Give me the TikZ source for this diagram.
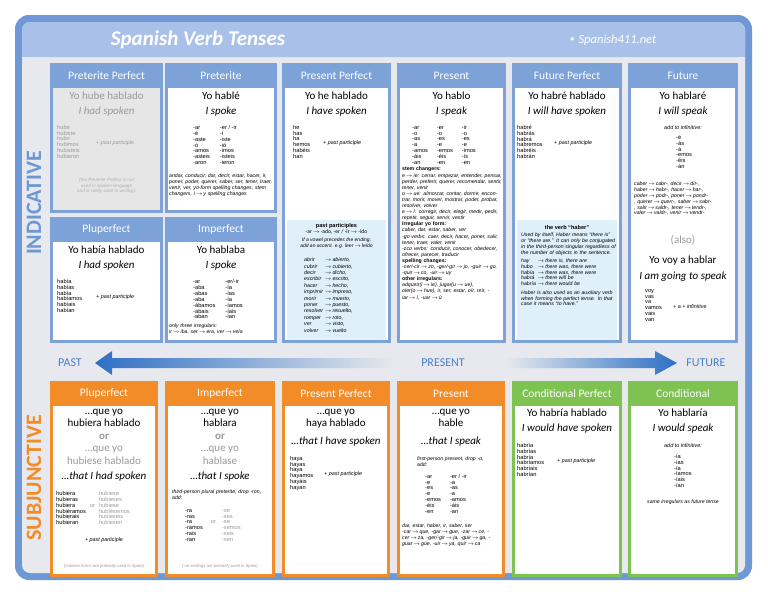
\documentclass[tikz,border=0pt]{standalone}
\usepackage{fontspec}
\setmainfont{Carlito}
\newfontfamily\smf{Liberation Sans}
\usetikzlibrary{calc}
\definecolor{frame}{HTML}{6F98D6}
\definecolor{band}{HTML}{A9C1E8}
\definecolor{bg}{HTML}{E7E9EE}
\definecolor{hblue}{HTML}{7DA2D8}
\definecolor{orng}{HTML}{F28C28}
\definecolor{grn}{HTML}{7EC352}
\definecolor{arrowblue}{HTML}{2E6FC4}
\definecolor{lblue}{HTML}{4A7FC8}
\definecolor{pale}{HTML}{DFF0FB}
\definecolor{gbody}{HTML}{E6E6E6}
\definecolor{gtext}{HTML}{9A9A9A}
\newcommand\ra{\,{$\scriptscriptstyle\rightarrow$}\,}
\newcommand\tensebox[8]{%
  \fill[#6] (#2,#3) rectangle (#4,#5);
  \fill[#7] ({#2+3},{#3+25}) rectangle ({#4-3},{#5-3});
  \node[hdr] (#1) at ({(#2+#4)/2},{#3+12.5}) {#8};}
\tikzset{
  hdr/.style={text=white,font=\fontsize{11.5}{12}\selectfont,inner sep=0},
  big/.style={font=\fontsize{11}{12}\selectfont,inner sep=0,anchor=north,align=center},
  bigi/.style={font=\fontsize{11}{12}\selectfont\itshape,inner sep=0,anchor=north,align=center},
  sm/.style={font=\smf\fontsize{5.7}{5.8}\selectfont,inner sep=0,anchor=north west,align=left},
  nt/.style={font=\smf\fontsize{5.2}{5.8}\selectfont\itshape,inner sep=0,anchor=north west,align=left,text width=#1},
  nt/.default=98pt,
  pp/.style={font=\smf\fontsize{5.4}{6}\selectfont\itshape,inner sep=0,anchor=west},
}
\begin{document}
\begin{tikzpicture}[x=1pt,y=-1pt]
\useasboundingbox (0,0) rectangle (768,595);
\fill[white] (0,0) rectangle (768,595);
% frame
\fill[frame,rounded corners=14pt] (15,15) rectangle (752,580);
\fill[bg,rounded corners=8pt] (22,22) rectangle (745,573);
\fill[band,rounded corners=8pt] (22,22) rectangle (745,57);
\fill[band] (22,45) rectangle (745,57);
\node[text=white,font=\fontsize{21}{23}\selectfont\bfseries\itshape,inner sep=0] (title) at (198,40) {Spanish Verb Tenses};
\node[text=white,font=\fontsize{12.5}{13}\selectfont\itshape,inner sep=0] (site) at (612,40) {\textasteriskcentered\ Spanish411.net};
% side labels
\node[rotate=90,text=lblue!80,font=\fontsize{22}{24}\selectfont\bfseries,inner sep=0] (ind) at (34,203) {INDICATIVE};
\node[rotate=90,text=orng,font=\fontsize{22}{24}\selectfont\bfseries,inner sep=0] (sub) at (34,478) {SUBJUNCTIVE};
% arrows
\shade[left color=arrowblue,right color=bg] (112,358) -- (395,358) -- (395,368) -- (112,368) -- (112,375) -- (95,363) -- (112,351) -- cycle;
\shade[left color=bg,right color=arrowblue] (505,358) -- (655,358) -- (655,351) -- (677,363) -- (655,375) -- (655,368) -- (505,368) -- cycle;
\node[text=lblue,font=\fontsize{12}{13}\selectfont,inner sep=0] (past) at (70,363) {PAST};
\node[text=lblue,font=\fontsize{12}{13}\selectfont,inner sep=0] (pres) at (443,363) {PRESENT};
\node[text=lblue,font=\fontsize{12}{13}\selectfont,inner sep=0] (fut) at (706,363) {FUTURE};

% ===== INDICATIVE =====
\tensebox{hpp}{50}{63}{163}{213}{hblue}{gbody}{Preterite Perfect}
\tensebox{hpret}{165}{63}{277}{213}{hblue}{white}{Preterite}
\tensebox{hprpf}{282}{63}{391}{343}{hblue}{white}{Present Perfect}
\tensebox{hpres}{397}{63}{506}{343}{hblue}{white}{Present}
\tensebox{hfutp}{512}{63}{622}{343}{hblue}{white}{Future Perfect}
\tensebox{hfut}{628}{63}{738}{343}{hblue}{white}{Future}
\tensebox{hplup}{50}{217}{163}{343}{hblue}{white}{Pluperfect}
\tensebox{himpf}{165}{217}{277}{343}{hblue}{white}{Imperfect}

% Preterite Perfect
\node[big,text=gtext] (a1) at (106.5,92) {Yo hube hablado};
\node[bigi,text=gtext] (a2) at (106.5,107) {I had spoken};
\node[sm,text=gtext] (a3) at (57,125) {hube\\hubiste\\hubo\\hubimos\\hubisteis\\hubieron};
\node[pp,text=gtext] (a4) at (96,143) {+ past participle};
\node[font=\smf\fontsize{4.6}{5.2}\selectfont\itshape,text=gtext!80,align=center,inner sep=0] (a5) at (106.5,186) {(the Preterite Perfect is not\\used in spoken language\\and is rarely used in writing.)};

% Preterite
\node[big] (b1) at (221,92) {Yo hablé};
\node[bigi] (b2) at (221,107) {I spoke};
\node[sm] (b3) at (193,125) {\begin{tabular}{@{}l@{\hspace{10pt}}l@{}}-ar&-er / -ir\\-é&-í\\-aste&-iste\\-ó&-ió\\-amos&-imos\\-asteis&-isteis\\-aron&-ieron\end{tabular}};
\node[nt=104pt] (b4) at (169,174) {andar, conducir, dar, decir, estar, hacer, ir, poner, poder, querer, saber, ser, tener, traer, venir, ver, yo-form spelling changes, stem changers, i\ra y spelling changes};

% Present Perfect
\node[big] (c1) at (336.5,92) {Yo he hablado};
\node[bigi] (c2) at (336.5,107) {I have spoken};
\node[sm] (c3) at (293,125) {he\\has\\ha\\hemos\\habéis\\han};
\node[pp] (c4) at (323,143) {+ past participle};
\fill[pale] (287,220) rectangle (386,340);
\node[font=\smf\fontsize{5.6}{6.2}\selectfont\bfseries,inner sep=0,anchor=north,align=center] (c5) at (336.5,223) {past participles\\[0.3pt]\normalfont -ar\ra-ado, -er / -ir\ra-ido};
\node[font=\smf\fontsize{5}{5.6}\selectfont\itshape,inner sep=0,anchor=north,align=center] (c6) at (336.5,238) {If a vowel precedes the ending,\\add an accent. e.g. leer\ra leído};
\node[font=\smf\fontsize{5.3}{6.4}\selectfont\itshape,inner sep=0,anchor=north west,align=left] (c7) at (304,257) {\begin{tabular}{@{}l@{\,}l@{}}abrir&\ra abierto,\\cubrir&\ra cubierto,\\decir&\ra dicho,\\escribir&\ra escrito,\\hacer&\ra hecho,\\imprimir&\ra impreso,\\morir&\ra muerto,\\poner&\ra puesto,\\resolver&\ra resuelto,\\romper&\ra roto,\\ver&\ra visto,\\volver&\ra vuelto\end{tabular}};

% Present
\node[big] (d1) at (451.5,92) {Yo hablo};
\node[bigi] (d2) at (451.5,107) {I speak};
\node[sm] (d3) at (412,125) {\begin{tabular}{@{}l@{\hspace{9pt}}l@{\hspace{9pt}}l@{}}-ar&-er&-ir\\-o&-o&-o\\-as&-es&-es\\-a&-e&-e\\-amos&-emos&-imos\\-áis&-éis&-ís\\-an&-en&-en\end{tabular}};
\node[nt=100pt,font=\smf\fontsize{5.2}{6.1}\selectfont\itshape] (d4) at (402,167) {{\upshape\bfseries stem changers:}\\e\ra ie: cerrar, empezar, entender, pensar, perder, preferir, querer, recomendar, sentir, tener, venir\\o\ra ue: almorzar, contar, dormir, encontrar, morir, mover, mostrar, poder, probar, resolver, volver\\e\ra i: corregir, decir, elegir, medir, pedir, repetir, seguir, servir, vestir\\{\upshape\bfseries irregular yo form:}\\caber, dar, estar, saber, ver\\-go verbs: caer, decir, hacer, poner, salir, tener, traer, valer, venir\\-zco verbs: conducir, conocer, obedecer, ofrecer, parecer, traducir\\{\upshape\bfseries spelling changes:}\\-cer/-cir\ra zo, -ger/-gir\ra jo, -guir\ra go, -quir\ra co, -uir\ra uy\\{\upshape\bfseries other irregulars:}\\adquirir(i\ra ie), jugar(u\ra ue), oler(o\ra hue), ir, ser, estar, oír, reír, -iar\ra í, -uar\ra ú};

% Future Perfect
\node[big] (e1) at (567,92) {Yo habré hablado};
\node[bigi] (e2) at (567,107) {I will have spoken};
\node[sm] (e3) at (517,125) {habré\\habrás\\habrá\\habremos\\habréis\\habrán};
\node[pp] (e4) at (554,143) {+ past participle};
\fill[pale] (517,220) rectangle (617,340);
\node[font=\smf\fontsize{5.6}{6}\selectfont\bfseries,inner sep=0] (e5) at (567,227) {the verb “haber”};
\node[nt=96pt] (e6) at (521,233) {Used by itself, Haber means “there is” or “there are.” It can only be conjugated in the third-person singular regardless of the number of objects in the sentence.\\[2pt]
\begin{tabular}{@{}l@{\,}l@{}}hay&\ra there is, there are\\hubo&\ra there was, there were\\había&\ra there was, there were\\habrá&\ra there will be\\habría&\ra there would be\end{tabular}\\[2pt]
Haber is also used as an auxiliary verb when forming the perfect tense. In that case it means “to have.”};

% Future
\node[big] (f1) at (683,92) {Yo hablaré};
\node[bigi] (f2) at (683,107) {I will speak};
\node[font=\smf\fontsize{5.4}{6}\selectfont\itshape,inner sep=0] (f3) at (683,128) {add to infinitive:};
\node[sm] (f4) at (676,135) {-é\\-ás\\-á\\-emos\\-éis\\-án};
\node[nt=100pt] (f5) at (634,182) {caber\ra cabr-, decir\ra dir-, haber\ra habr-, hacer\ra har-, poder\ra podr-, poner\ra pondr-, querer\ra querr-, saber\ra sabr-, salir\ra saldr-, tener\ra tendr-, valer\ra valdr-, venir\ra vendr-};
\node[font=\fontsize{11}{12}\selectfont,text=gtext,inner sep=0] (f6) at (683,240) {(also)};
\node[big] (f7) at (683,256) {Yo voy a hablar};
\node[bigi] (f8) at (683,272) {I am going to speak};
\node[sm] (f9) at (645,289) {voy\\vas\\va\\vamos\\vais\\van};
\node[pp] (f10) at (673,307) {+ a + infinitive};

% Pluperfect
\node[big] (g1) at (106.5,246) {Yo había hablado};
\node[bigi] (g2) at (106.5,261) {I had spoken};
\node[sm] (g3) at (57,279) {había\\habías\\había\\habíamos\\habíais\\habían};
\node[pp] (g4) at (96,297) {+ past participle};

% Imperfect
\node[big] (h1) at (221,246) {Yo hablaba};
\node[bigi] (h2) at (221,261) {I spoke};
\node[sm] (h3) at (193,279) {\begin{tabular}{@{}l@{\hspace{10pt}}l@{}}-ar&-er/-ir\\-aba&-ía\\-abas&-ías\\-aba&-ía\\-ábamos&-íamos\\-abais&-íais\\-aban&-ían\end{tabular}};
\node[nt=104pt] (h4) at (169,324) {only three irregulars:\\ir\ra iba, ser\ra era, ver\ra veía};

% ===== SUBJUNCTIVE =====
\tensebox{sp}{50}{381}{158}{577}{orng}{white}{Pluperfect}
\tensebox{si}{165}{381}{275}{577}{orng}{white}{Imperfect}
\tensebox{spp}{282}{381}{390}{577}{orng}{white}{Present Perfect}
\tensebox{spr}{397}{381}{505}{577}{orng}{white}{Present}
\tensebox{scp}{512}{381}{622}{577}{grn}{white}{Conditional Perfect}
\tensebox{sc}{628}{381}{738}{577}{grn}{white}{Conditional}

% Subj Pluperfect
\node[font=\fontsize{11}{12.4}\selectfont,inner sep=0,anchor=north,align=center] (i1) at (104,409) {…que yo\\hubiera hablado\\{\color{gtext}\bfseries or}\\{\color{gtext}…que yo}\\{\color{gtext}hubiese hablado}};
\node[bigi] (i2) at (104,472) {…that I had spoken};
\node[sm] (i3) at (56,491) {\begin{tabular}{@{}l@{\hspace{4pt}}l@{\hspace{4pt}}l@{}}hubiera&&\color{gtext}hubiese\\hubieras&&\color{gtext}hubieses\\hubiera&\color{gtext}or&\color{gtext}hubiese\\hubiéramos&&\color{gtext}hubiésemos\\hubierais&&\color{gtext}hubieseis\\hubieran&&\color{gtext}hubiesen\end{tabular}};
\node[font=\smf\fontsize{5.4}{6}\selectfont\itshape,inner sep=0] (i4) at (104,540) {+ past participle};
\node[font=\smf\fontsize{4.2}{5}\selectfont\itshape,text=gtext,inner sep=0] (i5) at (104,566) {(hubiese forms are primarily used in Spain)};

% Subj Imperfect
\node[font=\fontsize{11}{12.4}\selectfont,inner sep=0,anchor=north,align=center] (j1) at (220,409) {…que yo\\hablara\\{\color{gtext}\bfseries or}\\{\color{gtext}…que yo}\\{\color{gtext}hablase}};
\node[bigi] (j2) at (220,472) {…that I spoke};
\node[nt=90pt] (j3) at (172,490) {third-person plural preterite, drop -ron, add:};
\node[sm] (j4) at (185,508) {\begin{tabular}{@{}l@{\hspace{8pt}}l@{\hspace{6pt}}l@{}}-ra&&\color{gtext}-se\\-ras&&\color{gtext}-ses\\-ra&\color{gtext}or&\color{gtext}-se\\-ramos&&\color{gtext}-semos\\-rais&&\color{gtext}-seis\\-ran&&\color{gtext}-sen\end{tabular}};
\node[font=\smf\fontsize{4.2}{5}\selectfont\itshape,text=gtext,inner sep=0] (j5) at (220,566) {(-se endings are primarily used in Spain)};

% Subj Present Perfect
\node[font=\fontsize{11}{12.4}\selectfont,inner sep=0,anchor=north,align=center] (k1) at (336,409) {…que yo\\haya hablado};
\node[bigi] (k2) at (336,437) {…that I have spoken};
\node[sm] (k3) at (290,456) {haya\\hayas\\haya\\hayamos\\hayáis\\hayan};
\node[pp] (k4) at (324,474) {+ past participle};

% Subj Present
\node[font=\fontsize{11}{12.4}\selectfont,inner sep=0,anchor=north,align=center] (l1) at (451,409) {…que yo\\hable};
\node[bigi] (l2) at (451,437) {…that I speak};
\node[nt=70pt] (l3) at (417,457) {first-person present, drop -o, add:};
\node[sm] (l4) at (425,474) {\begin{tabular}{@{}l@{\hspace{9pt}}l@{}}-ar&-er / -ir\\-e&-a\\-es&-as\\-e&-a\\-emos&-amos\\-éis&-áis\\-en&-an\end{tabular}};
\node[nt=100pt] (l5) at (402,524) {dar, estar, haber, ir, saber, ser\\-car\ra que, -gar\ra gue, -zar\ra ce, -cer\ra za, -ger/-gir\ra ja, -guir\ra ga, -guar\ra güe, -uir\ra ya, quir\ra ca};

% Conditional Perfect
\node[big] (m1) at (567,409) {Yo habría hablado};
\node[bigi] (m2) at (567,424) {I would have spoken};
\node[sm] (m3) at (517,443) {habría\\habrías\\habría\\habríamos\\habríais\\habrían};
\node[pp] (m4) at (557,461) {+ past participle};

% Conditional
\node[big] (n1) at (683,409) {Yo hablaría};
\node[bigi] (n2) at (683,424) {I would speak};
\node[font=\smf\fontsize{5.4}{6}\selectfont\itshape,inner sep=0] (n3) at (683,446) {add to infinitive:};
\node[sm] (n4) at (674,454) {-ía\\-ías\\-ía\\-íamos\\-íais\\-ían};
\node[font=\smf\fontsize{5.2}{6}\selectfont\itshape,inner sep=0] (n5) at (683,502) {same irregulars as future tense};
\end{tikzpicture}
\end{document}
